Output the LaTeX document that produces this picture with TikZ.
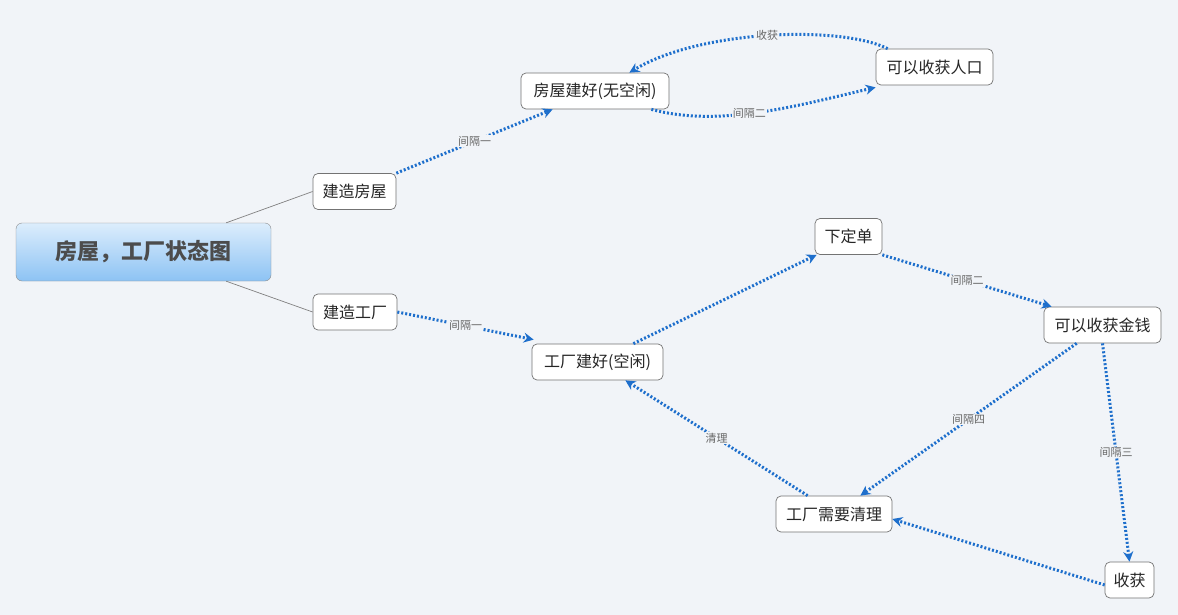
\documentclass[tikz,border=0pt]{standalone}
\usepackage{fontspec}
\setmainfont{Noto Sans CJK SC}
\usetikzlibrary{arrows.meta,shadings}
\definecolor{bg}{HTML}{F1F4F8}
\definecolor{lnk}{HTML}{1E6FCC}
\definecolor{rtop}{HTML}{DCEDFC}
\definecolor{rbot}{HTML}{8DC3F4}
\begin{document}
\begin{tikzpicture}[x=1pt,y=-1pt,
 box/.style={draw=black!55,fill=white,rounded corners=5pt,line width=0.7pt,minimum height=36pt,inner xsep=4pt,font=\fontsize{16}{19}\selectfont,text=black!85},
 lk/.style={draw=lnk,line width=3pt,dash pattern=on 2pt off 2pt,-{Stealth[length=10pt,width=10pt]}},
 lb/.style={font=\fontsize{11}{13}\selectfont,text=black!60,fill=bg,inner sep=1pt}]
\fill[bg] (0,0) rectangle (1178,615);
\useasboundingbox (0,0) rectangle (1178,615);
\node[draw=black!45,rounded corners=6pt,top color=rtop,bottom color=rbot,minimum width=255pt,minimum height=58pt,font=\fontsize{22}{25}\selectfont\bfseries,text=black!70] (root) at (143.5,252) {房屋，工厂状态图};
\node[box,minimum width=83pt] (bh) at (354.5,191.5) {建造房屋};
\node[box,minimum width=84pt] (bf) at (355,312) {建造工厂};
\node[box,minimum width=148pt] (hd) at (595,91) {房屋建好(无空闲)};
\node[box,minimum width=117pt] (hp) at (934.5,67) {可以收获人口};
\node[box,minimum width=67pt] (xd) at (848.5,236.5) {下定单};
\node[box,minimum width=131pt] (fd) at (597.5,362) {工厂建好(空闲)};
\node[box,minimum width=117pt] (fm) at (1102.5,325) {可以收获金钱};
\node[box,minimum width=116pt] (fc) at (834,514) {工厂需要清理};
\node[box,minimum width=49pt] (sh) at (1129.5,580) {收获};
\draw[black!50,line width=0.7pt] (root.north east)++(-45,0) -- (bh.west);
\draw[black!50,line width=0.7pt] (root.south east)++(-45,0) -- (bf.west);
\draw[lk] (bh.north east) -- node[lb]{间隔一} ([xshift=32pt]hd.south west);
\draw[lk] ([xshift=-18pt]hd.south east) .. controls (720,128) and (800,105) .. node[lb,pos=0.45]{间隔二} ([yshift=-2pt]hp.south west);
\draw[lk] ([xshift=12pt]hp.north west) .. controls (840,25) and (700,30) .. node[lb,pos=0.5]{收获} ([xshift=-40pt]hd.north east);
\draw[lk] (bf.east) -- node[lb]{间隔一} ([xshift=2pt,yshift=4pt]fd.north west);
\draw[lk] ([xshift=-30pt]fd.north east) -- ([xshift=2pt]xd.south west);
\draw[lk] (xd.south east) -- node[lb]{间隔二} ([xshift=8pt]fm.north west);
\draw[lk] ([xshift=33pt]fm.south west) -- node[lb]{间隔四} ([xshift=-32pt]fc.north east);
\draw[lk] (fm.south) -- node[lb]{间隔三} (sh.north);
\draw[lk] ([yshift=-5pt]sh.west) -- ([yshift=-5pt]fc.east);
\draw[lk] ([xshift=32pt]fc.north west) -- node[lb]{清理} ([xshift=-38pt]fd.south east);
\end{tikzpicture}
\end{document}
